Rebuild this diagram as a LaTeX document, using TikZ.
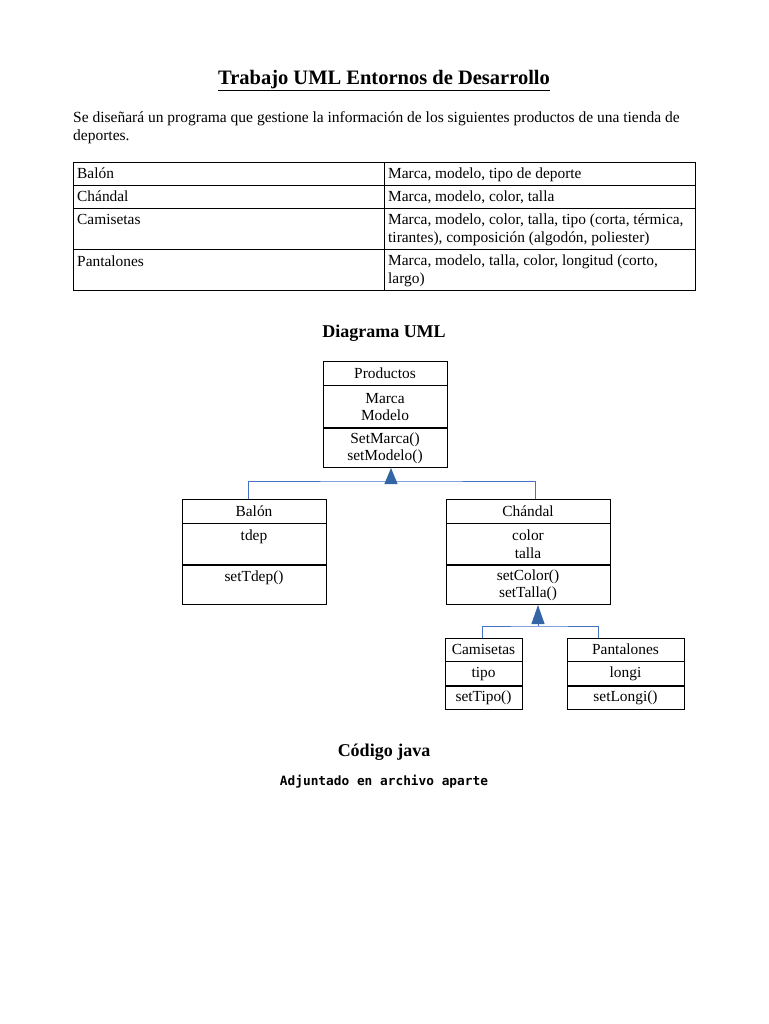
\documentclass[tikz,border=0pt]{standalone}
\usepackage{fontspec}
\setmainfont{Liberation Serif}
\newfontfamily\codefont{DejaVu Sans Mono}
\usetikzlibrary{arrows.meta, positioning}

\definecolor{linkblue}{RGB}{68,114,196}
\definecolor{tipblue}{RGB}{52,101,164}

\begin{document}
\begin{tikzpicture}[x=1pt, y=-1pt, >=Stealth,
    every node/.style={font=\fontsize{15.4}{17.5}\selectfont},
    cell/.style={anchor=base west, inner sep=0pt, align=left},
    cls/.style={draw, line width=0.8pt, align=center, inner sep=1pt},
    inh/.style={linkblue, line width=1pt},
    inhtip/.style={-{Triangle[length=#1, width=13pt, color=tipblue]}}]

\useasboundingbox (0,0) rectangle (768,1024);

% title and short description on top of the page
\node[font=\fontsize{20.5}{24}\selectfont\bfseries] (title) at (384,81) {\underline{Trabajo UML Entornos de Desarrollo}};
% (base of a node with two lines is the base of its last line)
\node[cell, font=\fontsize{15.5}{18}\selectfont] (intro) at (73,141) {Se diseñará un programa que gestione la información de los siguientes productos de una tienda de\\deportes.};

% the table with the products and their fields
\draw[line width=0.9pt] (73,162) rectangle (695,290);
\draw[line width=0.9pt] (73,185) -- (695,185);
\draw[line width=0.9pt] (73,208) -- (695,208);
\draw[line width=0.9pt] (73,249) -- (695,249);
\draw[line width=0.9pt] (384,162) -- (384,290);

\node[cell] (rowbal) at (77,179) {Balón};
\node[cell] (rowbalf) at (388,179) {Marca, modelo, tipo de deporte};
\node[cell] (rowcha) at (77,202) {Chándal};
\node[cell] (rowchaf) at (388,202) {Marca, modelo, color, talla};
\node[cell] (rowcam) at (77,225) {Camisetas};
\node[cell] (rowcamf) at (388,242.5) {Marca, modelo, color, talla, tipo (corta, térmica,\\tirantes), composición (algodón, poliester)};
\node[cell] (rowpan) at (77,266) {Pantalones};
\node[cell] (rowpanf) at (388,283.5) {Marca, modelo, talla, color, longitud (corto,\\largo)};

% the UML diagram
\node[font=\fontsize{18}{21}\selectfont\bfseries] (diag) at (384,333.5) {Diagrama UML};

% class Productos
\node[cls, minimum width=124pt, minimum height=24pt] (prod1) at (385,373) {Productos};
\node[cls, minimum width=124pt, minimum height=42pt, below=0pt of prod1] (prod2) {Marca\\Modelo};
\node[cls, minimum width=124pt, minimum height=39pt, below=0pt of prod2] (prod3) {SetMarca()\\setModelo()};

% class Balon
\node[cls, minimum width=144pt, minimum height=24pt] (bal1) at (254,511) {Balón};
\node[cls, minimum width=144pt, minimum height=41pt, below=0pt of bal1] (bal2) {tdep\\~};
\node[cls, minimum width=144pt, minimum height=39pt, below=0pt of bal2] (bal3) {setTdep()\\~};

% class Chandal
\node[cls, minimum width=164pt, minimum height=24pt] (cha1) at (528,511) {Chándal};
\node[cls, minimum width=164pt, minimum height=41pt, below=0pt of cha1] (cha2) {color\\talla};
\node[cls, minimum width=164pt, minimum height=39pt, below=0pt of cha2] (cha3) {setColor()\\setTalla()};

% classes Camisetas and Pantalones
\node[cls, minimum width=77pt, minimum height=23pt] (cam1) at (483.5,649.5) {Camisetas};
\node[cls, minimum width=77pt, minimum height=24pt, below=0pt of cam1] (cam2) {tipo};
\node[cls, minimum width=77pt, minimum height=23pt, below=0pt of cam2] (cam3) {setTipo()};

\node[cls, minimum width=117pt, minimum height=23pt] (pan1) at (625.5,649.5) {Pantalones};
\node[cls, minimum width=117pt, minimum height=24pt, below=0pt of pan1] (pan2) {longi};
\node[cls, minimum width=117pt, minimum height=23pt, below=0pt of pan2] (pan3) {setLongi()};

% inheritance: Balon and Chandal from Productos
\coordinate (top1) at (391,481);
\draw[inh] ([xshift=-6pt]bal1.north) |- (top1) -| ([xshift=7pt]cha1.north);
\draw[inh, inhtip=16pt] (top1) -- (top1 |- prod3.south);

% inheritance: Camisetas and Pantalones from Chandal
\coordinate (top2) at (538,626);
\draw[inh] ([xshift=-1.5pt]cam1.north) |- (top2) -| ([xshift=-27.5pt]pan1.north);
\draw[inh, inhtip=19pt] (top2) -- (top2 |- cha3.south);

% java code note
\node[font=\fontsize{18}{21}\selectfont\bfseries] (code) at (384,752.5) {Código java};
\node[font=\codefont\fontsize{12.8}{15}\selectfont\bfseries] (note) at (384,782) {Adjuntado en archivo aparte};

\end{tikzpicture}
\end{document}
